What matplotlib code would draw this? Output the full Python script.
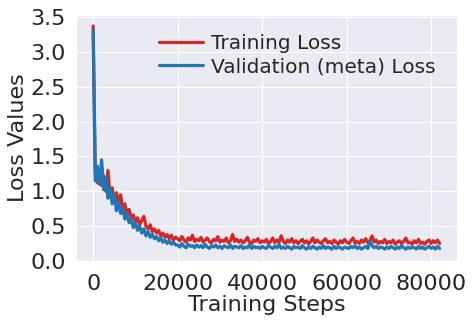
import numpy as np
import seaborn as sns
from matplotlib import pyplot as plt

# logged every 500 steps
steps = np.arange(0, 82001, 500)

train_loss = [
    3.37, 1.25, 1.12, 1.30, 1.08, 1.22, 1.00, 1.30, 0.92, 1.05,
    0.85, 0.98, 0.80, 0.95, 0.74, 0.82, 0.68, 0.74, 0.62, 0.66,
    0.56, 0.62, 0.52, 0.58, 0.64, 0.50, 0.46, 0.52, 0.42, 0.46,
    0.40, 0.44, 0.36, 0.40, 0.34, 0.38, 0.32, 0.37, 0.30, 0.34,
    0.32, 0.29, 0.35, 0.30, 0.27, 0.33, 0.30, 0.37, 0.28, 0.31,
    0.29, 0.34, 0.27, 0.30, 0.33, 0.28, 0.26, 0.31, 0.29, 0.35,
    0.27, 0.30, 0.28, 0.33, 0.26, 0.29, 0.38, 0.28, 0.31, 0.27,
    0.30, 0.26, 0.29, 0.34, 0.27, 0.25, 0.30, 0.28, 0.32, 0.26,
    0.29, 0.27, 0.31, 0.25, 0.28, 0.33, 0.26, 0.30, 0.27, 0.36,
    0.28, 0.25, 0.30, 0.27, 0.32, 0.26, 0.29, 0.25, 0.28, 0.31,
    0.26, 0.29, 0.24, 0.28, 0.33, 0.26, 0.30, 0.27, 0.25, 0.29,
    0.32, 0.26, 0.28, 0.25, 0.30, 0.27, 0.24, 0.29, 0.26, 0.31,
    0.27, 0.25, 0.29, 0.33, 0.26, 0.28, 0.25, 0.30, 0.27, 0.32,
    0.26, 0.29, 0.36, 0.27, 0.30, 0.25, 0.28, 0.26, 0.31, 0.25,
    0.28, 0.26, 0.30, 0.24, 0.27, 0.29, 0.25, 0.28, 0.33, 0.26,
    0.27, 0.24, 0.29, 0.26, 0.31, 0.25, 0.27, 0.24, 0.28, 0.30,
    0.25, 0.29, 0.26, 0.30, 0.25,
]

val_loss = [
    3.30, 1.15, 1.36, 1.10, 1.45, 1.02, 1.20, 0.90, 1.05, 0.82,
    0.95, 0.72, 0.85, 0.68, 0.76, 0.60, 0.68, 0.55, 0.60, 0.48,
    0.55, 0.44, 0.50, 0.40, 0.46, 0.36, 0.42, 0.34, 0.38, 0.32,
    0.35, 0.29, 0.33, 0.27, 0.30, 0.25, 0.29, 0.24, 0.27, 0.23,
    0.23, 0.20, 0.25, 0.21, 0.19, 0.24, 0.21, 0.22, 0.19, 0.23,
    0.20, 0.22, 0.19, 0.24, 0.20, 0.18, 0.22, 0.20, 0.23, 0.19,
    0.21, 0.18, 0.22, 0.20, 0.19, 0.23, 0.18, 0.21, 0.20, 0.19,
    0.22, 0.18, 0.20, 0.19, 0.23, 0.18, 0.21, 0.19, 0.20, 0.18,
    0.21, 0.19, 0.18, 0.22, 0.20, 0.18, 0.21, 0.19, 0.24, 0.18,
    0.20, 0.18, 0.21, 0.19, 0.17, 0.21, 0.19, 0.20, 0.18, 0.22,
    0.19, 0.17, 0.20, 0.18, 0.21, 0.19, 0.17, 0.20, 0.18, 0.22,
    0.18, 0.20, 0.19, 0.17, 0.21, 0.18, 0.20, 0.19, 0.17, 0.20,
    0.19, 0.18, 0.21, 0.19, 0.22, 0.18, 0.20, 0.17, 0.19, 0.21,
    0.18, 0.28, 0.22, 0.19, 0.21, 0.18, 0.20, 0.19, 0.17, 0.20,
    0.18, 0.21, 0.19, 0.17, 0.20, 0.18, 0.22, 0.19, 0.17, 0.20,
    0.18, 0.20, 0.19, 0.17, 0.21, 0.18, 0.20, 0.17, 0.19, 0.21,
    0.18, 0.20, 0.17, 0.21, 0.18,
]

sns.set_style('darkgrid')

fig, ax = plt.subplots(figsize=(4.74, 3.23), dpi=100)
fig.subplots_adjust(left=0.160, right=0.964, top=0.954, bottom=0.192)

ax.plot(steps, train_loss, color='tab:red', lw=2.3, label='Training Loss')
ax.plot(steps, val_loss, color='tab:blue', lw=2.3, label='Validation (meta) Loss')

ax.set_xticks([0, 20000, 40000, 60000, 80000])
ax.set_yticks(np.arange(0, 3.51, 0.5))
ax.tick_params(labelsize=16)
ax.tick_params(axis='x', pad=6)
ax.set_xlabel('Training Steps', fontsize=16, labelpad=0.5)
ax.set_ylabel('Loss Values', fontsize=16, labelpad=2)

ax.legend(fontsize=14.5, frameon=False, loc='upper right',
          bbox_to_anchor=(0.992, 0.995), handlelength=2.2,
          handletextpad=0.4, labelspacing=0.2)

plt.savefig('out.png')
